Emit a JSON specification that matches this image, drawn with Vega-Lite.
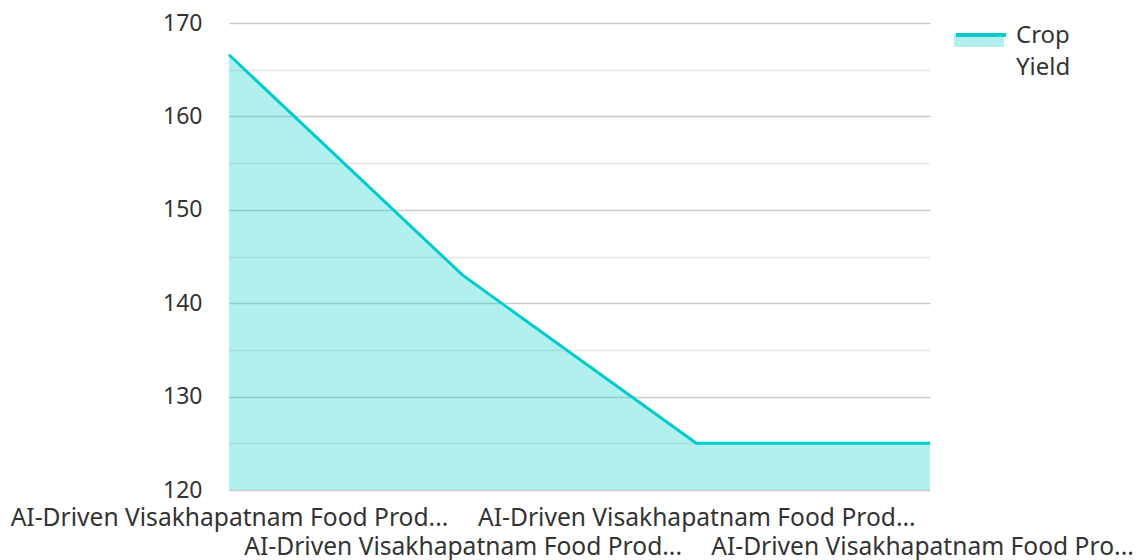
{
  "$schema": "https://vega.github.io/schema/vega-lite/v6.json",
  "autosize": {"type": "none"},
  "padding": {"left": 229, "top": 23, "right": 217, "bottom": 70},
  "width": 701,
  "height": 467,
  "background": "white",
  "config": {
    "view": {"stroke": null},
    "font": "Noto Sans",
    "axis": {"labelFont": "Noto Sans", "labelColor": "#333333", "labelFontSize": 24},
    "legend": {"labelFont": "Noto Sans", "labelColor": "#333333", "labelFontSize": 24}
  },
  "data": {
    "values": [
      {"region": "AI-Driven Visakhapatnam Food Production 2020", "series": "Crop Yield", "yield": 166.6},
      {"region": "AI-Driven Visakhapatnam Food Production 2021", "series": "Crop Yield", "yield": 143},
      {"region": "AI-Driven Visakhapatnam Food Production 2022", "series": "Crop Yield", "yield": 125},
      {"region": "AI-Driven Visakhapatnam Food Production 2023", "series": "Crop Yield", "yield": 125}
    ]
  },
  "encoding": {
    "x": {
      "field": "region", "type": "ordinal", "sort": null,
      "scale": {"type": "point", "padding": 0},
      "axis": {
        "title": null, "domain": false, "ticks": false, "grid": false,
        "labelAngle": 0, "labelOverlap": false, "labelBound": false, "labelLimit": 0,
        "labelBaseline": "top", "labelFontSize": 24.6,
        "labelPadding": {"condition": {"test": "slice(datum.value,-4)=='2021' || slice(datum.value,-4)=='2023'", "value": 45}, "value": 16},
        "labelOffset": {"condition": {"test": "slice(datum.value,-4)=='2023'", "value": -8}, "value": 0},
        "labelExpr": "slice(datum.value,-4)=='2023' ? 'AI-Driven Visakhapatnam Food Pro...' : 'AI-Driven Visakhapatnam Food Prod...'"
      }
    },
    "y": {
      "field": "yield", "type": "quantitative",
      "scale": {"domain": [120, 170], "nice": false, "zero": false},
      "axis": {
        "title": null, "domain": false, "ticks": false,
        "labelFontSize": 23,
        "values": [120, 125, 130, 135, 140, 145, 150, 155, 160, 165, 170],
        "labelExpr": "datum.value % 10 == 0 ? datum.label : ''",
        "labelPadding": 27,
        "gridColor": {"condition": {"test": "datum.value % 10 == 0", "value": "#cccccc"}, "value": "#e6e6e6"},
        "gridWidth": 1.5
      }
    }
  },
  "layer": [
    {
      "mark": {"type": "area", "fillOpacity": 0.3, "clip": true},
      "encoding": {
        "fill": {
          "field": "series", "type": "nominal",
          "scale": {"range": ["#00cccc"]},
          "legend": {
            "title": null, "orient": "none", "legendX": 725, "legendY": -14,
            "padding": 0, "offset": 0,
            "symbolType": "M-1,0H1V0.52H-1Z", "symbolSize": 2500,
            "symbolOpacity": 0.3, "symbolStrokeWidth": 0,
            "labelOffset": 8, "labelOpacity": 0,
            "labelExpr": "split(datum.label, ' ')",
            "encode": {"labels": {"update": {"lineHeight": {"value": 32}}}}
          }
        }
      }
    },
    {
      "mark": {"type": "line", "strokeWidth": 3},
      "encoding": {
        "stroke": {
          "field": "series", "type": "nominal",
          "scale": {"range": ["#00cccc"]},
          "legend": {
            "title": null, "orient": "none", "legendX": 725, "legendY": -14,
            "padding": 0, "offset": 0,
            "symbolType": "M-1,-0.04H1", "symbolSize": 2500, "symbolStrokeWidth": 4,
            "labelOffset": 8,
            "labelExpr": "split(datum.label, ' ')",
            "encode": {"labels": {"update": {"lineHeight": {"value": 32}}}}
          }
        }
      }
    }
  ]
}
